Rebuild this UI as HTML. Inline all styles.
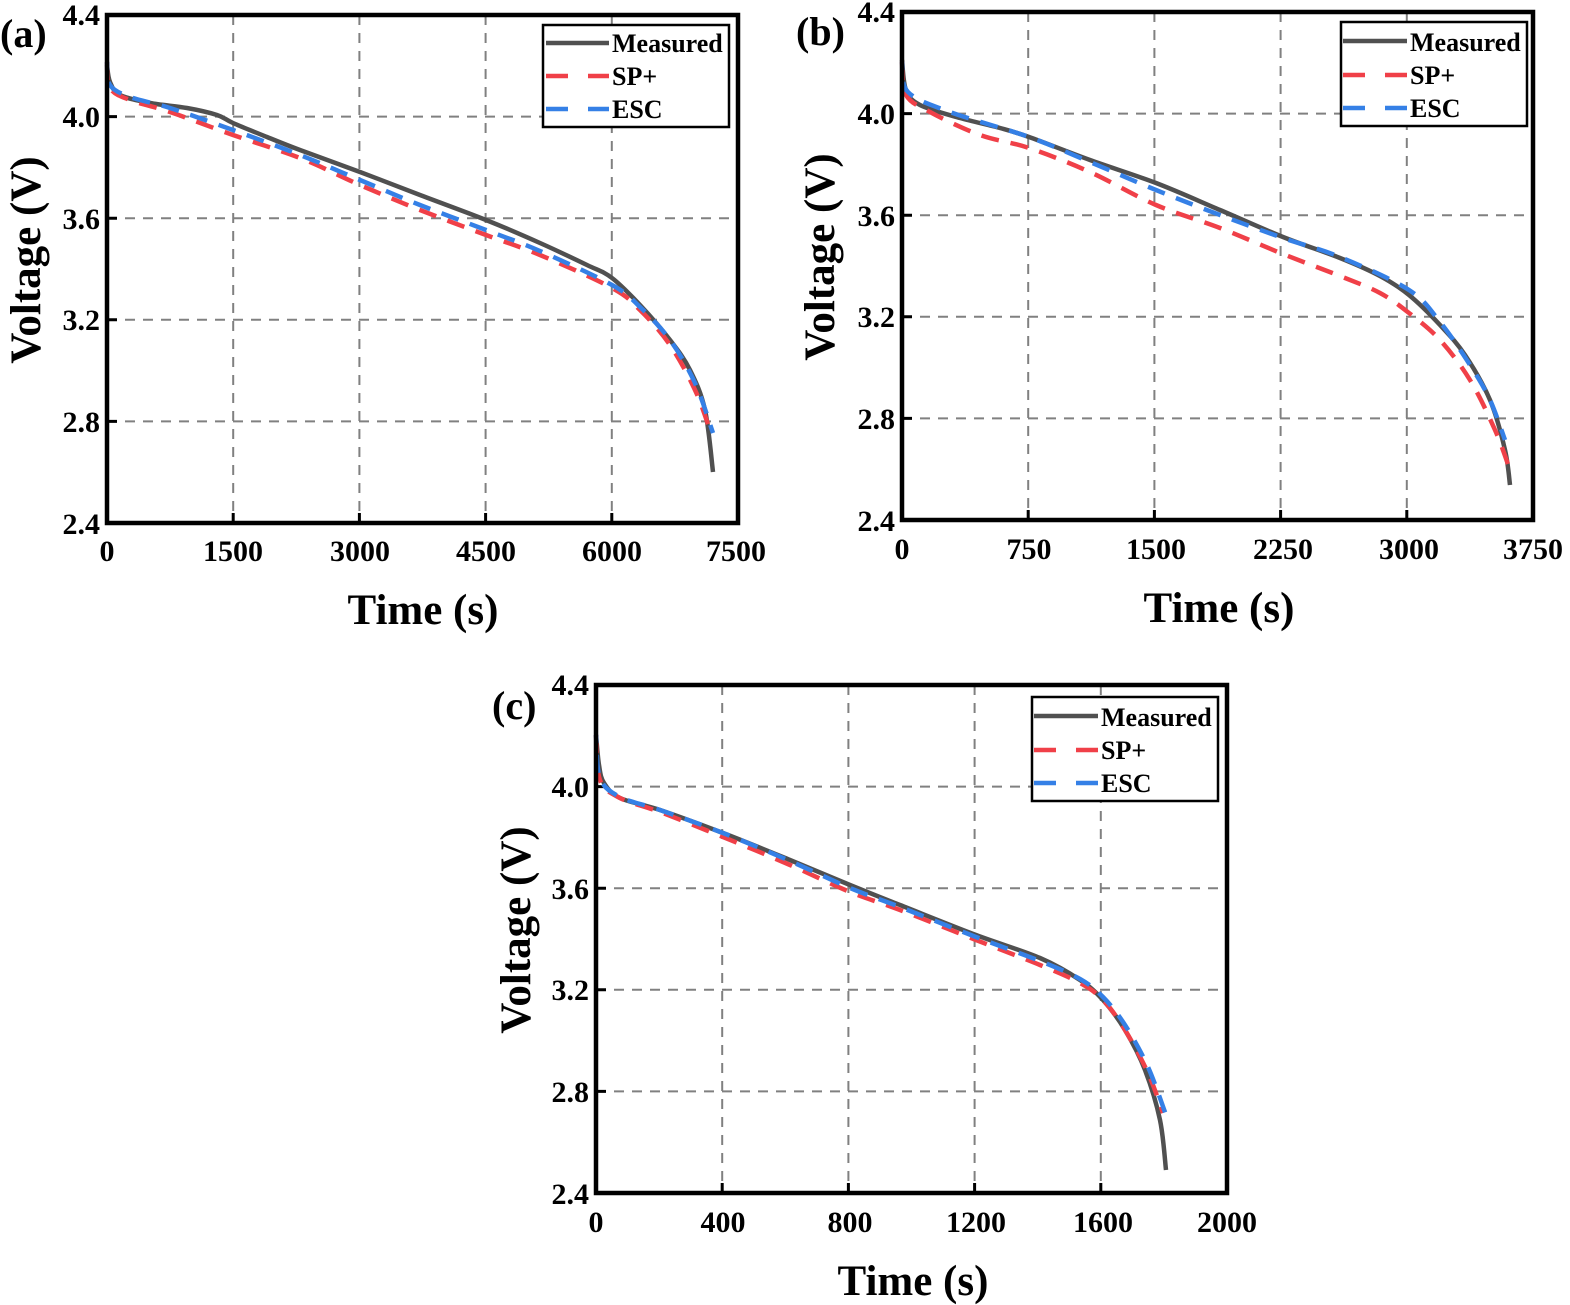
<!DOCTYPE html>
<html><head><meta charset="utf-8"><style>
html,body{margin:0;padding:0;background:#fff}
svg{display:block}
text{font-family:"Liberation Serif",serif;font-weight:bold;fill:#000}
.g{stroke:#808080;stroke-width:2;stroke-dasharray:10 8;fill:none}
.m{stroke:#505050;stroke-width:4.5;fill:none;stroke-linejoin:round;stroke-linecap:butt}
.s{stroke:#f04048;stroke-width:4.5;fill:none;stroke-dasharray:18 12;stroke-linejoin:round}
.e{stroke:#3580e6;stroke-width:4.5;fill:none;stroke-dasharray:18 12;stroke-dashoffset:10;stroke-linejoin:round}
.tk{font-size:30px}
.ti{font-size:43px}
.lg{font-size:26px}
</style></head><body>
<svg width="1570" height="1305" viewBox="0 0 1570 1305" xmlns="http://www.w3.org/2000/svg">
<defs>
<g id="grid">
<path class="g" d="M126.2 0V508M252.4 0V508M378.6 0V508M504.8 0V508M0 101.6H631M0 203.2H631M0 304.8H631M0 406.4H631"/>
<path stroke="#000" stroke-width="3" d="M126.2 508v-10M252.4 508v-10M378.6 508v-10M504.8 508v-10M0 101.6h10M0 203.2h10M0 304.8h10M0 406.4h10"/>
</g>
<g id="frame"><rect x="0" y="0" width="631" height="508" fill="none" stroke="#000" stroke-width="4.5"/></g>
</defs>

<!-- Panel a -->
<g transform="translate(107,15)">
<use href="#grid"/>
<polyline class="m" points="0,50 3,67 13,80 43,88 80,93 110,100 126,108 160,122 193,135 253,157 313,180 379,205 433,228 480,250 505,263 533,290 563,325 583,355 598,395 606,457"/>
<polyline class="s" points="0,47 3,73 23,85 63,97 126,120 193,143 253,170 313,195 379,220 433,240 505,273 533,295 563,330 588,375 603,415"/>
<polyline class="e" points="0,47 3,70 23,82 63,93 126,115 193,140 253,165 313,190 379,215 433,236 505,270 533,292 563,325 588,368 606,418"/>
<use href="#frame"/>
<rect x="436" y="10" width="186" height="102" fill="#fff" stroke="#000" stroke-width="2.5"/>
<line class="m" x1="439" y1="28" x2="502" y2="28"/>
<line stroke="#f04048" stroke-width="4.5" stroke-dasharray="22 20" x1="439" y1="61" x2="502" y2="61"/>
<line stroke="#3580e6" stroke-width="4.5" stroke-dasharray="22 20" x1="439" y1="94" x2="502" y2="94"/>
<text class="lg" x="505" y="37">Measured</text>
<text class="lg" x="505" y="70">SP+</text>
<text class="lg" x="505" y="103">ESC</text>
</g>
<text x="0" y="47" style="font-size:40px">(a)</text>
<g text-anchor="end">
<text class="tk" x="100" y="25">4.4</text><text class="tk" x="100" y="127">4.0</text><text class="tk" x="100" y="229">3.6</text><text class="tk" x="100" y="330">3.2</text><text class="tk" x="100" y="432">2.8</text><text class="tk" x="100" y="534">2.4</text>
</g>
<g text-anchor="middle">
<text class="tk" x="107" y="561">0</text><text class="tk" x="233" y="561">1500</text><text class="tk" x="360" y="561">3000</text><text class="tk" x="486" y="561">4500</text><text class="tk" x="612" y="561">6000</text><text class="tk" x="736" y="561">7500</text>
<text class="ti" x="423" y="624">Time (s)</text>
<text class="ti" transform="translate(40,260) rotate(-90)">Voltage (V)</text>
</g>

<!-- Panel b -->
<g transform="translate(902,12)">
<use href="#grid"/>
<polyline class="m" points="0,48 4,78 18,93 58,106 98,116 127,125 188,148 254,171 318,198 381,225 438,246 478,264 507,283 538,313 563,343 588,388 603,438 608,473"/>
<polyline class="s" points="0,50 4,83 28,100 78,123 127,136 188,160 254,193 318,216 381,242 438,264 478,281 507,301 538,328 568,368 593,418 608,458"/>
<polyline class="e" points="0,50 6,80 48,100 127,125 188,150 254,178 318,203 381,226 438,245 507,278 538,310 568,353 588,388 603,428"/>
<use href="#frame"/>
<rect x="439" y="10" width="186" height="104" fill="#fff" stroke="#000" stroke-width="2.5"/>
<line class="m" x1="441" y1="29" x2="505" y2="29"/>
<line stroke="#f04048" stroke-width="4.5" stroke-dasharray="22 20" x1="441" y1="63" x2="505" y2="63"/>
<line stroke="#3580e6" stroke-width="4.5" stroke-dasharray="22 20" x1="441" y1="96" x2="505" y2="96"/>
<text class="lg" x="508" y="39">Measured</text>
<text class="lg" x="508" y="72">SP+</text>
<text class="lg" x="508" y="105">ESC</text>
</g>
<text x="796" y="45" style="font-size:40px">(b)</text>
<g text-anchor="end">
<text class="tk" x="895" y="22">4.4</text><text class="tk" x="895" y="124">4.0</text><text class="tk" x="895" y="226">3.6</text><text class="tk" x="895" y="327">3.2</text><text class="tk" x="895" y="429">2.8</text><text class="tk" x="895" y="531">2.4</text>
</g>
<g text-anchor="middle">
<text class="tk" x="902" y="559">0</text><text class="tk" x="1029" y="559">750</text><text class="tk" x="1156" y="559">1500</text><text class="tk" x="1283" y="559">2250</text><text class="tk" x="1409" y="559">3000</text><text class="tk" x="1533" y="559">3750</text>
<text class="ti" x="1219" y="622">Time (s)</text>
<text class="ti" transform="translate(834,257) rotate(-90)">Voltage (V)</text>
</g>

<!-- Panel c -->
<g transform="translate(596,685)">
<use href="#grid"/>
<polyline class="m" points="0,50 3,80 8,98 24,113 64,125 127,148 194,175 254,200 304,220 380,250 444,273 484,295 507,315 529,345 549,385 564,435 570,485"/>
<polyline class="s" points="0,50 4,95 24,113 64,127 127,152 194,180 254,207 304,225 380,255 444,280 484,298 507,315 529,345 552,388 567,428"/>
<polyline class="e" points="0,50 4,93 24,112 64,125 127,148 194,176 254,203 304,222 380,252 444,276 484,294 507,312 529,340 552,382 570,430"/>
<use href="#frame"/>
<rect x="436" y="12" width="186" height="104" fill="#fff" stroke="#000" stroke-width="2.5"/>
<line class="m" x1="438" y1="31" x2="502" y2="31"/>
<line stroke="#f04048" stroke-width="4.5" stroke-dasharray="22 20" x1="438" y1="65" x2="502" y2="65"/>
<line stroke="#3580e6" stroke-width="4.5" stroke-dasharray="22 20" x1="438" y1="98" x2="502" y2="98"/>
<text class="lg" x="505" y="41">Measured</text>
<text class="lg" x="505" y="74">SP+</text>
<text class="lg" x="505" y="107">ESC</text>
</g>
<text x="492" y="719" style="font-size:40px">(c)</text>
<g text-anchor="end">
<text class="tk" x="589" y="695">4.4</text><text class="tk" x="589" y="797">4.0</text><text class="tk" x="589" y="899">3.6</text><text class="tk" x="589" y="1000">3.2</text><text class="tk" x="589" y="1102">2.8</text><text class="tk" x="589" y="1204">2.4</text>
</g>
<g text-anchor="middle">
<text class="tk" x="596" y="1232">0</text><text class="tk" x="723" y="1232">400</text><text class="tk" x="850" y="1232">800</text><text class="tk" x="976" y="1232">1200</text><text class="tk" x="1103" y="1232">1600</text><text class="tk" x="1227" y="1232">2000</text>
<text class="ti" x="913" y="1295">Time (s)</text>
<text class="ti" transform="translate(530,930) rotate(-90)">Voltage (V)</text>
</g>
</svg>
<script>
document.querySelectorAll('polyline').forEach(function(pl){
  var p=pl.getAttribute('points').trim().split(/\s+/).map(function(s){return s.split(',').map(Number);});
  var d='M'+p[0][0]+' '+p[0][1];
  for(var i=0;i<p.length-1;i++){
    var p0=p[i-1]||p[i],p1=p[i],p2=p[i+1],p3=p[i+2]||p2;
    var c1x=p1[0]+(p2[0]-p0[0])/6,c1y=p1[1]+(p2[1]-p0[1])/6;
    var c2x=p2[0]-(p3[0]-p1[0])/6,c2y=p2[1]-(p3[1]-p1[1])/6;
    d+=' C'+c1x.toFixed(1)+' '+c1y.toFixed(1)+' '+c2x.toFixed(1)+' '+c2y.toFixed(1)+' '+p2[0]+' '+p2[1];
  }
  var path=document.createElementNS('http://www.w3.org/2000/svg','path');
  path.setAttribute('d',d);path.setAttribute('class',pl.getAttribute('class'));
  pl.parentNode.replaceChild(path,pl);
});
</script>
</body></html>
